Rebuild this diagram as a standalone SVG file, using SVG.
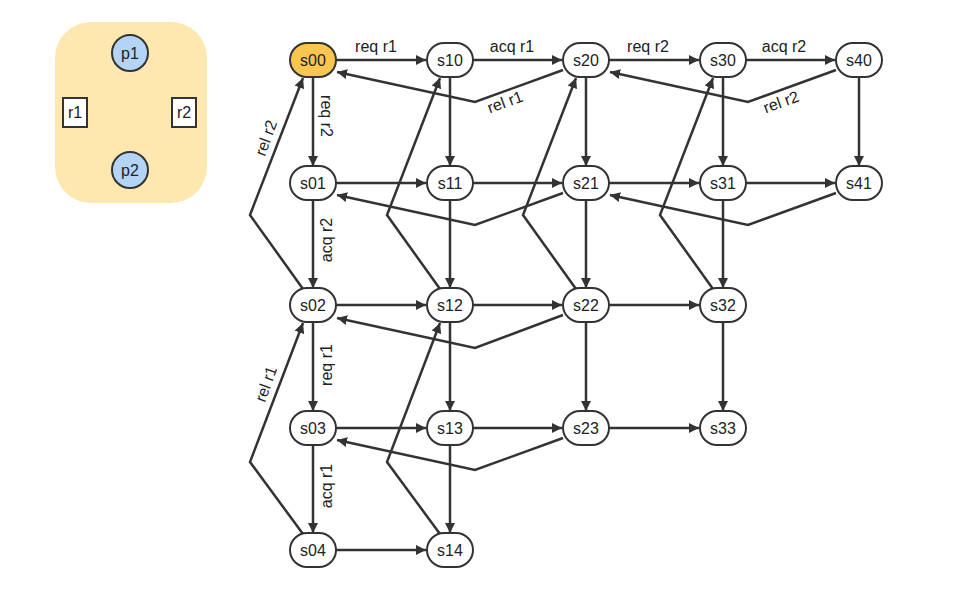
<svg xmlns="http://www.w3.org/2000/svg" width="974" height="592" viewBox="0 0 974 592">
<defs>
<marker id="a" viewBox="0 0 10 10" refX="10" refY="5" markerWidth="10" markerHeight="10" markerUnits="userSpaceOnUse" orient="auto"><path d="M0,0L10,5L0,10z" fill="#333"/></marker>
<style>
text{font-family:"Liberation Sans",Arial,sans-serif;font-size:16px;fill:#222;text-anchor:middle;dominant-baseline:central}
.n rect{fill:#fff;stroke:#333;stroke-width:2}
.e path{fill:none;stroke:#333;stroke-width:2.5;marker-end:url(#a)}
.lb{font-size:15px}
</style>
</defs>
<g id="legend">
<rect x="55" y="22" width="152" height="181" rx="36" fill="#ffe8b0"/>
<circle cx="130" cy="53" r="18" fill="#b3d4f5" stroke="#333" stroke-width="2"/><text x="130" y="53">p1</text>
<circle cx="130" cy="170" r="18" fill="#b3d4f5" stroke="#333" stroke-width="2"/><text x="130" y="170">p2</text>
<rect x="63" y="98" width="24" height="29" fill="#fff" stroke="#333" stroke-width="2"/><text x="75" y="112">r1</text>
<rect x="172" y="98" width="24" height="29" fill="#fff" stroke="#333" stroke-width="2"/><text x="184" y="112">r2</text>
</g>
<g class="e" id="connectors">
<path d="M336,60H426"/><path d="M473,60H562"/><path d="M609,60H699"/><path d="M746,60H835"/>
<path d="M336,183H426"/><path d="M473,183H562"/><path d="M609,183H699"/><path d="M746,183H835"/>
<path d="M336,305H426"/><path d="M473,305H562"/><path d="M609,305H699"/>
<path d="M336,428H426"/><path d="M473,428H562"/><path d="M609,428H699"/>
<path d="M336,550H426"/>
<path d="M313,77V166"/><path d="M313,200V288"/><path d="M313,322V411"/><path d="M313,445V533"/>
<path d="M450,77V166"/><path d="M450,200V288"/><path d="M450,322V411"/><path d="M450,445V533"/>
<path d="M586,77V166"/><path d="M586,200V288"/><path d="M586,322V411"/>
<path d="M723,77V166"/><path d="M723,200V288"/><path d="M723,322V411"/>
<path d="M859,77V166"/>
<path d="M563,70L475,102L337,72"/><path d="M836,70L748,102L610,72"/>
<path d="M563,193L475,225L337,195"/><path d="M836,193L748,225L610,195"/>
<path d="M563,315L475,348L337,318"/><path d="M563,438L475,470L337,440"/>
<path d="M303,289L250,215L303,78"/><path d="M303,534L250,462L303,323"/>
<path d="M440,289L387,215L440,78"/><path d="M440,534L387,462L440,323"/>
<path d="M576,289L523,215L576,78"/><path d="M713,289L660,215L713,78"/>
</g>
<g id="labels" class="lb">
<text x="376" y="46">req r1</text><text x="512" y="46">acq r1</text><text x="648" y="46">req r2</text><text x="784" y="46">acq r2</text>
<text transform="translate(326,116) rotate(90)">req r2</text>
<text transform="translate(326,240) rotate(-90)">acq r2</text>
<text transform="translate(326,365) rotate(-90)">req r1</text>
<text transform="translate(326,486) rotate(-90)">acq r1</text>
<text transform="translate(505,102) rotate(-20)">rel r1</text>
<text transform="translate(781,102) rotate(-20)">rel r2</text>
<text transform="translate(266,138) rotate(-70)">rel r2</text>
<text transform="translate(266,384) rotate(-70)">rel r1</text>
</g>
<g class="n">
<g id="s00"><rect x="290" y="43" width="46" height="34" rx="17" style="fill:#f9c74f"/><text x="313" y="60">s00</text></g>
<g id="s10"><rect x="427" y="43" width="46" height="34" rx="17"/><text x="450" y="60">s10</text></g>
<g id="s20"><rect x="563" y="43" width="46" height="34" rx="17"/><text x="586" y="60">s20</text></g>
<g id="s30"><rect x="700" y="43" width="46" height="34" rx="17"/><text x="723" y="60">s30</text></g>
<g id="s40"><rect x="836" y="43" width="46" height="34" rx="17"/><text x="859" y="60">s40</text></g>
<g id="s01"><rect x="290" y="166" width="46" height="34" rx="17"/><text x="313" y="183">s01</text></g>
<g id="s11"><rect x="427" y="166" width="46" height="34" rx="17"/><text x="450" y="183">s11</text></g>
<g id="s21"><rect x="563" y="166" width="46" height="34" rx="17"/><text x="586" y="183">s21</text></g>
<g id="s31"><rect x="700" y="166" width="46" height="34" rx="17"/><text x="723" y="183">s31</text></g>
<g id="s41"><rect x="836" y="166" width="46" height="34" rx="17"/><text x="859" y="183">s41</text></g>
<g id="s02"><rect x="290" y="288" width="46" height="34" rx="17"/><text x="313" y="305">s02</text></g>
<g id="s12"><rect x="427" y="288" width="46" height="34" rx="17"/><text x="450" y="305">s12</text></g>
<g id="s22"><rect x="563" y="288" width="46" height="34" rx="17"/><text x="586" y="305">s22</text></g>
<g id="s32"><rect x="700" y="288" width="46" height="34" rx="17"/><text x="723" y="305">s32</text></g>
<g id="s03"><rect x="290" y="411" width="46" height="34" rx="17"/><text x="313" y="428">s03</text></g>
<g id="s13"><rect x="427" y="411" width="46" height="34" rx="17"/><text x="450" y="428">s13</text></g>
<g id="s23"><rect x="563" y="411" width="46" height="34" rx="17"/><text x="586" y="428">s23</text></g>
<g id="s33"><rect x="700" y="411" width="46" height="34" rx="17"/><text x="723" y="428">s33</text></g>
<g id="s04"><rect x="290" y="533" width="46" height="34" rx="17"/><text x="313" y="550">s04</text></g>
<g id="s14"><rect x="427" y="533" width="46" height="34" rx="17"/><text x="450" y="550">s14</text></g>
</g>
</svg>
